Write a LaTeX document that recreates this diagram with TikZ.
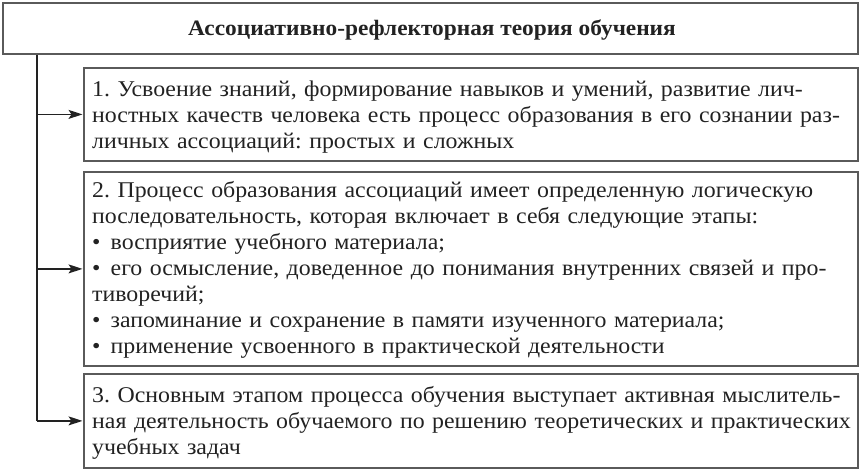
\documentclass[tikz,border=0pt]{standalone}
\usepackage{fontspec}
\setmainfont{Liberation Serif}[FakeStretch=1.06]
\usetikzlibrary{arrows.meta}
\definecolor{boxline}{HTML}{5A5A5A}
\definecolor{ink}{HTML}{222222}
\newcommand{\itembullet}{•\hspace{0.45em}}
\tikzset{
  frame/.style={draw=boxline, line width=1.8pt, fill=white, inner sep=0pt, anchor=north west, text=ink},
  bodytext/.style={text=ink, align=left, anchor=base west, inner sep=0pt, text width=760pt, font=\fontsize{22.5}{26}\selectfont\frenchspacing},
  link/.style={draw=ink, line width=1.3pt, -{Stealth[length=14pt,width=9pt,inset=3pt]}, shorten >=0.5pt},
  trunkline/.style={draw=ink, line width=1.3pt}
}
\begin{document}
\begin{tikzpicture}[x=1pt,y=-1pt]
\useasboundingbox (0,0) rectangle (860,469);
\node[frame, minimum width=855pt, minimum height=51pt] (title) at (2,2) {};
\node[text=ink, anchor=base, inner sep=0pt, font=\bfseries\fontsize{22}{26}\selectfont] (tt) at (432,35.5) {Ассоциативно-рефлекторная теория обучения};
\node[frame, minimum width=774pt, minimum height=93pt] (b1) at (83,67) {};
\node[bodytext] (t1) at (92,96.5) {1. Усвоение знаний, формирование навыков и умений, развитие лич-\\ностных качеств человека есть процесс образования в его сознании раз-\\личных ассоциаций: простых и сложных};
\node[frame, minimum width=774pt, minimum height=194pt] (b2) at (83,171) {};
\node[bodytext] (t2) at (92,197) {2. Процесс образования ассоциаций имеет определенную логическую\\последовательность, которая включает в себя следующие этапы:\\\itembullet восприятие учебного материала;\\\itembullet его осмысление, доведенное до понимания внутренних связей и про-\\тиворечий;\\\itembullet запоминание и сохранение в памяти изученного материала;\\\itembullet применение усвоенного в практической деятельности};
\node[frame, minimum width=774pt, minimum height=94pt] (b3) at (83,373) {};
\node[bodytext] (t3) at (92,402.3) {3. Основным этапом процесса обучения выступает активная мыслитель-\\ная деятельность обучаемого по решению теоретических и практических\\учебных задач};
\coordinate (trunk) at (37,0);
\draw[trunkline] (title.south west -| trunk) -- (b3.west -| trunk);
\draw[link] (b1.west -| trunk) -- (b1.west);
\draw[link] (b2.west -| trunk) -- (b2.west);
\draw[link] (b3.west -| trunk) -- (b3.west);
\end{tikzpicture}
\end{document}
